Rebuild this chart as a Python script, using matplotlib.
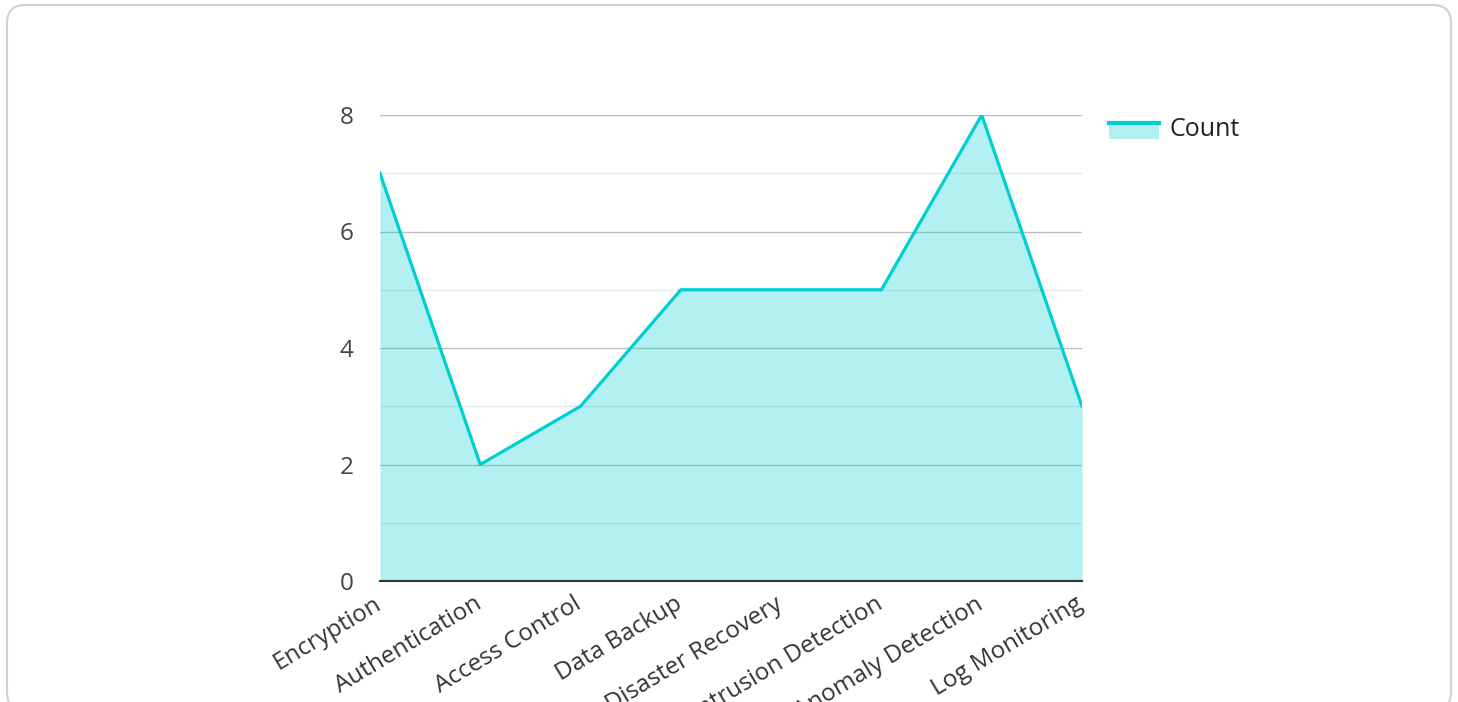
import matplotlib
matplotlib.use("Agg")
import matplotlib.pyplot as plt
from matplotlib.patches import FancyBboxPatch, Rectangle
from matplotlib.lines import Line2D
from matplotlib.legend_handler import HandlerBase
from matplotlib.ticker import MultipleLocator
from matplotlib.transforms import IdentityTransform, ScaledTranslation

categories = ["Encryption", "Authentication", "Access Control", "Data Backup",
              "Disaster Recovery", "Intrusion Detection", "Anomaly Detection", "Log Monitoring"]
counts = [7, 2, 3, 5, 5, 5, 8, 3]
series_name = "Count"

LINE = "#00CED1"
FILL = "#00CED1"

plt.rcParams['font.family'] = ['Open Sans', 'DejaVu Sans']

fig = plt.figure(figsize=(14.58, 7.02), dpi=100)
W, H = 1458, 702
ax = fig.add_axes([380 / W, 1 - 581 / H, (1082 - 380) / W, (581 - 115) / H])

x = list(range(len(categories)))
ax.fill_between(x, counts, 0, color=FILL, alpha=0.3, linewidth=0, zorder=2)
line, = ax.plot(x, counts, color=LINE, linewidth=2.3, zorder=3)

ax.set_xlim(0, len(categories) - 1)
ax.set_ylim(0, 8)
ax.yaxis.set_major_locator(MultipleLocator(2))
ax.yaxis.set_minor_locator(MultipleLocator(1))
ax.grid(which='major', axis='y', color='#bdbdbd', linewidth=1.0, zorder=1)
ax.grid(which='minor', axis='y', color='#e8e8e8', linewidth=1.0, zorder=1)
ax.set_axisbelow(True)

for s in ['top', 'right', 'left']:
    ax.spines[s].set_visible(False)
ax.spines['bottom'].set_color('#333333')
ax.spines['bottom'].set_linewidth(1.5)
ax.spines['bottom'].set_zorder(4)

ax.set_xticks(x)
ax.set_xticklabels(categories, rotation=31, ha='right', rotation_mode='anchor',
                   fontsize=17.5, color='#333333')
ax.tick_params(axis='x', length=0, pad=8)
ax.tick_params(axis='y', which='both', length=0, pad=19, labelsize=17.5, labelcolor='#444444')
shift = ScaledTranslation(-7 / 100, 0, fig.dpi_scale_trans)
for lbl in ax.get_xticklabels():
    lbl.set_transform(lbl.get_transform() + shift)


class AreaHandler(HandlerBase):
    def create_artists(self, legend, orig_handle, xdescent, ydescent, width, height, fontsize, trans):
        r = Rectangle((-xdescent, -ydescent - 0.2 * height), width, height * 0.95,
                      facecolor=FILL, alpha=0.3, edgecolor='none', transform=trans)
        l = Line2D([-xdescent, -xdescent + width], [-ydescent + 0.72 * height] * 2,
                   color=LINE, linewidth=3, transform=trans)
        return [r, l]


leg = ax.legend([line], [series_name], handler_map={line: AreaHandler()},
                loc='upper left', bbox_to_anchor=(1.006, 1.045), frameon=False,
                fontsize=18, handlelength=2.0, handletextpad=0.42,
                labelcolor='#222222')

border = FancyBboxPatch((7, H - 5 - 705), 1444, 705, boxstyle="round,pad=0,rounding_size=18",
                        transform=IdentityTransform(),
                        facecolor='none', edgecolor='#d0d0d0', linewidth=1.5)
fig.patches.append(border)

fig.savefig("out.png", dpi=100)
